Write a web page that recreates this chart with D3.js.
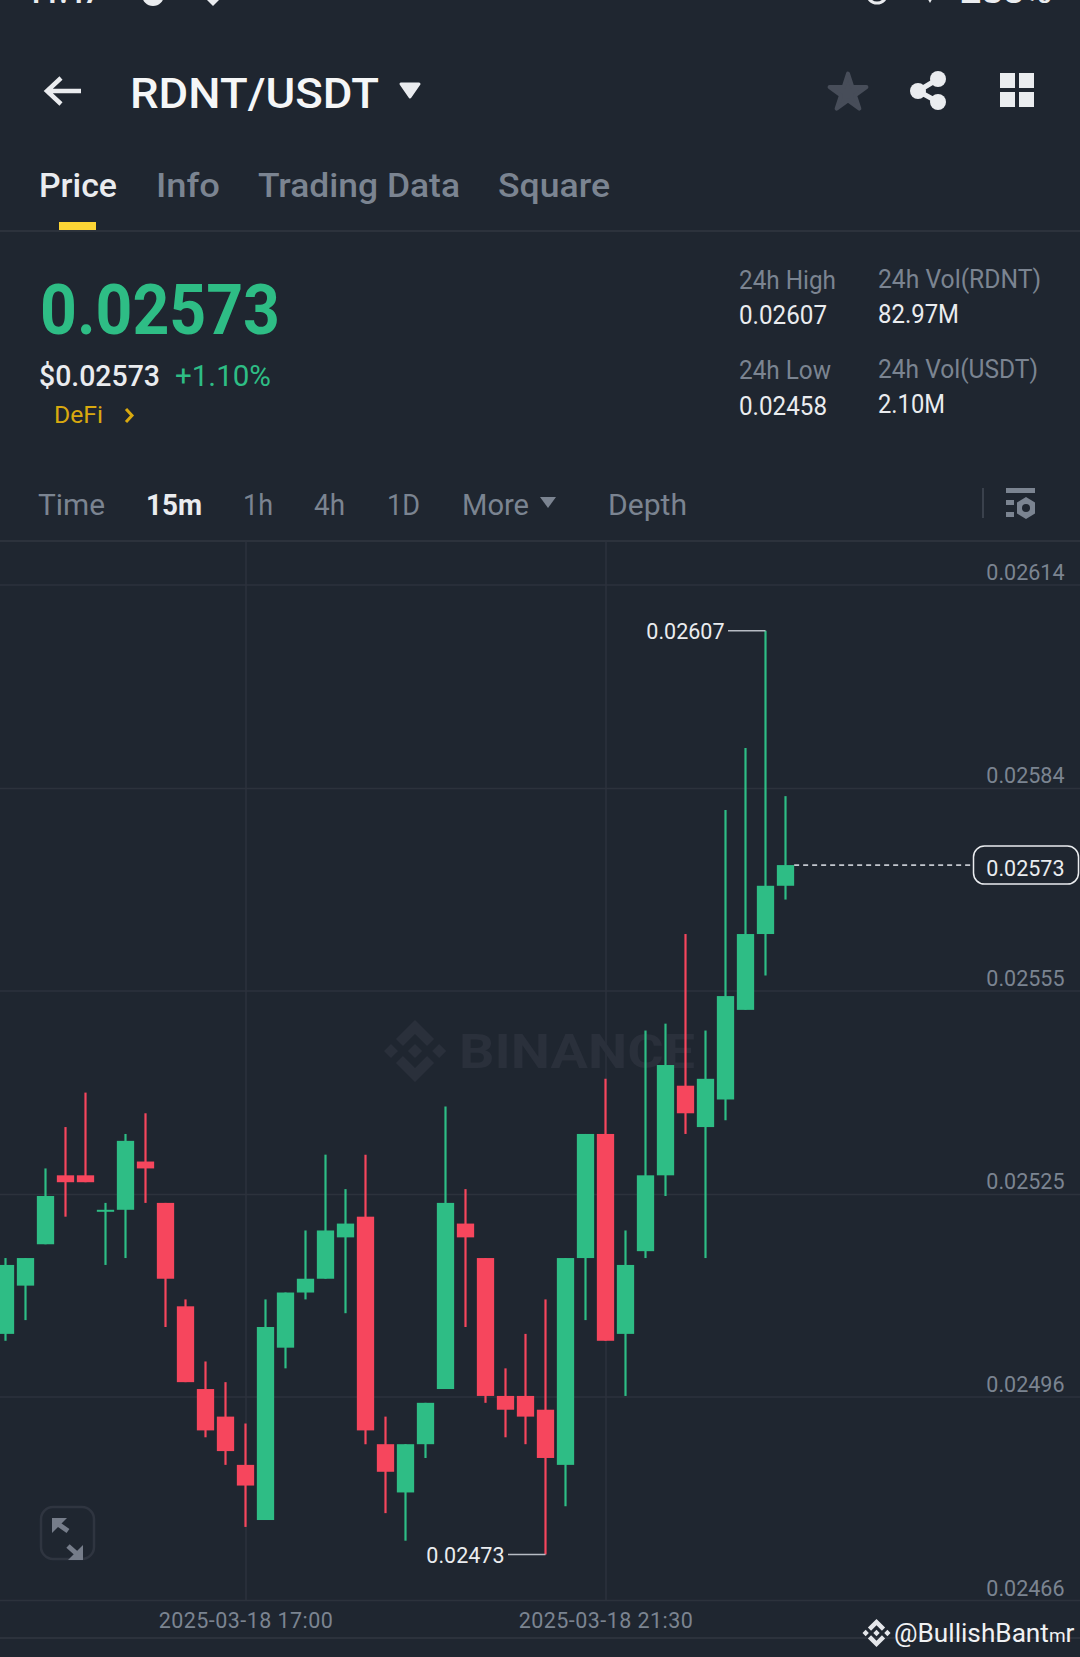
<!DOCTYPE html>
<html lang="en">

<head>
  <meta charset="UTF-8">
  <title>RDNT/USDT</title>
  <script src="https://d3js.org/d3.v7.min.js"></script>
  <style>
    html, body { margin: 0; padding: 0; background: #1f2630; }
    svg { display: block; font-family: Roboto, sans-serif; }
  </style>
</head>

<body>
  <svg id="chart" width="1080" height="1657"></svg>
  <script>
    // candle data
    var times = [
      "2025-03-18 14:00", "2025-03-18 14:15", "2025-03-18 14:30", "2025-03-18 14:45",
      "2025-03-18 15:00", "2025-03-18 15:15", "2025-03-18 15:30", "2025-03-18 15:45",
      "2025-03-18 16:00", "2025-03-18 16:15", "2025-03-18 16:30", "2025-03-18 16:45",
      "2025-03-18 17:00", "2025-03-18 17:15", "2025-03-18 17:30", "2025-03-18 17:45",
      "2025-03-18 18:00", "2025-03-18 18:15", "2025-03-18 18:30", "2025-03-18 18:45",
      "2025-03-18 19:00", "2025-03-18 19:15", "2025-03-18 19:30", "2025-03-18 19:45",
      "2025-03-18 20:00", "2025-03-18 20:15", "2025-03-18 20:30", "2025-03-18 20:45",
      "2025-03-18 21:00", "2025-03-18 21:15", "2025-03-18 21:30", "2025-03-18 21:45",
      "2025-03-18 22:00", "2025-03-18 22:15", "2025-03-18 22:30", "2025-03-18 22:45",
      "2025-03-18 23:00", "2025-03-18 23:15", "2025-03-18 23:30", "2025-03-18 23:45"
    ];
    var opens = [
      0.02505, 0.02512, 0.02518, 0.02528, 0.02528, 0.02523, 0.02523, 0.02530,
      0.02524, 0.02509, 0.02497, 0.02493, 0.02486, 0.02478, 0.02503, 0.02511,
      0.02513, 0.02519, 0.02522, 0.02489, 0.02482, 0.02489, 0.02497, 0.02521,
      0.02516, 0.02496, 0.02496, 0.02494, 0.02486, 0.02516, 0.02534, 0.02505,
      0.02517, 0.02528, 0.02541, 0.02535, 0.02539, 0.02552, 0.02563, 0.02570
    ];
    var highs = [
      0.02516, 0.02516, 0.02529, 0.02535, 0.02540, 0.02524, 0.02534, 0.02537,
      0.02524, 0.02510, 0.02501, 0.02498, 0.02492, 0.02510, 0.02511, 0.02520,
      0.02531, 0.02526, 0.02531, 0.02493, 0.02489, 0.02495, 0.02538, 0.02526,
      0.02516, 0.02500, 0.02505, 0.02510, 0.02516, 0.02534, 0.02542, 0.02520,
      0.02549, 0.02550, 0.02563, 0.02549, 0.02581, 0.02590, 0.02607, 0.02583
    ];
    var lows = [
      0.02504, 0.02507, 0.02518, 0.02522, 0.02527, 0.02515, 0.02516, 0.02524,
      0.02506, 0.02498, 0.02490, 0.02486, 0.02477, 0.02478, 0.02500, 0.02510,
      0.02513, 0.02508, 0.02489, 0.02479, 0.02475, 0.02487, 0.02497, 0.02506,
      0.02495, 0.02490, 0.02489, 0.02473, 0.02480, 0.02507, 0.02504, 0.02496,
      0.02516, 0.02525, 0.02534, 0.02516, 0.02536, 0.02552, 0.02557, 0.02568
    ];
    var closes = [
      0.02515, 0.02516, 0.02525, 0.02527, 0.02527, 0.02523, 0.02533, 0.02529,
      0.02513, 0.02498, 0.02491, 0.02488, 0.02483, 0.02506, 0.02511, 0.02513,
      0.02520, 0.02521, 0.02491, 0.02485, 0.02489, 0.02495, 0.02524, 0.02519,
      0.02496, 0.02494, 0.02493, 0.02487, 0.02516, 0.02534, 0.02504, 0.02515,
      0.02528, 0.02544, 0.02537, 0.02542, 0.02554, 0.02563, 0.02570, 0.02573
    ];
    var priceTicks = [0.026137, 0.025842, 0.025548, 0.025253, 0.024959, 0.024664];
    var timeTicks = ["2025-03-18 17:00", "2025-03-18 21:30"];
    var lastPrice = 0.02573;
    var highPrice = 0.02607;
    var lowPrice = 0.02473;
    var tabs = ["Price", "Info", "Trading Data", "Square"];
    var intervals = ["Time", "15m", "1h", "4h", "1D", "More", "Depth"];

    var WHITE = "#eaecef", GREY = "#7b8491", GRID = "#2c323c", UP = "#2ebd85", DOWN = "#f6465d";

    var svg = d3.select("#chart");
    var parseTime = d3.timeParse("%Y-%m-%d %H:%M");

    // width squeezes the text to the width it has in the screenshot font
    function label(x, y, str, size, color, weight, width) {
      var t = svg.append("text")
        .attr("x", x)
        .attr("y", y)
        .attr("font-size", size)
        .attr("font-weight", weight || 400)
        .attr("fill", color)
        .text(str);
      if (width) t.attr("textLength", width).attr("lengthAdjust", "spacingAndGlyphs");
      return t;
    }

    function binanceLogo(x, y, size, color) {
      // logo is drawn on a 126.6 unit box
      var k = size / 126.6;
      svg.append("path")
        .attr("transform", "translate(" + (x - size / 2) + "," + (y - size / 2) + ") scale(" + k + ")")
        .attr("fill", color)
        .attr("d", "M38.7 53.2L63.3 28.6l24.6 24.6 14.3-14.3L63.3 0 24.4 38.9zM0 63.3L14.3 49l14.3 14.3-14.3 14.3zM38.7 73.4L63.3 98l24.6-24.6 14.3 14.3-38.9 38.9-38.9-38.9zM98.3 63.3L112.6 49l14.3 14.3-14.3 14.3zM77.8 63.3L63.3 48.8 48.8 63.3l14.5 14.5z");
    }

    // status bar, cut off by the top of the picture
    label(27, 3, "11:47", 30, WHITE, 700, 73);
    svg.append("circle").attr("cx", 153).attr("cy", -5).attr("r", 11).attr("fill", WHITE);
    svg.append("path").attr("d", "M201 -6H225L213 6Z").attr("fill", WHITE);
    svg.append("circle").attr("cx", 877).attr("cy", -7).attr("r", 10).attr("fill", "none").attr("stroke", WHITE).attr("stroke-width", 3);
    svg.append("path").attr("d", "M925 -6H935L930 3Z").attr("fill", WHITE);
    label(960, 3, "250%", 30, WHITE, 700, 92);

    // header
    svg.append("path").attr("d", "M81 91H47M61 78L47 91L61 104").attr("fill", "none").attr("stroke", WHITE).attr("stroke-width", 4.5);
    label(130, 108, "RDNT/USDT", 43, "#f5f6f7", 500, 249);
    svg.append("path").attr("d", "M401 84H419L410 97Z").attr("fill", WHITE).attr("stroke", WHITE).attr("stroke-width", 3).attr("stroke-linejoin", "round");

    // star, share, grid icons
    var star = d3.symbol().type(d3.symbolStar).size(420);
    svg.append("path").attr("d", star()).attr("transform", "translate(848,93)")
      .attr("fill", "#474d59").attr("stroke", "#474d59").attr("stroke-width", 4).attr("stroke-linejoin", "round");
    svg.append("path").attr("d", "M938 79L918 91L938 102").attr("fill", "none").attr("stroke", WHITE).attr("stroke-width", 5);
    [[918, 91], [938, 79], [938, 102]].forEach(function (d) {
      svg.append("circle").attr("cx", d[0]).attr("cy", d[1]).attr("r", 8).attr("fill", WHITE);
    });
    [[1000, 73], [1019, 73], [1000, 92], [1019, 92]].forEach(function (d) {
      svg.append("rect").attr("x", d[0]).attr("y", d[1]).attr("width", 15).attr("height", 15).attr("fill", WHITE);
    });

    // tabs
    var tabX = [39, 156, 258, 498];
    var tabWidth = [78, 64, 202, 112];
    tabs.forEach(function (d, i) {
      label(tabX[i], 197, d, 34, i == 0 ? WHITE : GREY, 500, tabWidth[i]);
    });
    svg.append("rect").attr("x", 59).attr("y", 222).attr("width", 37).attr("height", 8).attr("fill", "#fcd535");
    svg.append("rect").attr("x", 0).attr("y", 230).attr("width", 1080).attr("height", 2).attr("fill", GRID);

    // price block
    label(40, 334, "0.02573", 70, UP, 700, 240);
    label(39, 386, "$0.02573", 29, WHITE, 500, 121);
    label(175, 386, "+1.10%", 29, UP, 400, 96);
    label(54, 423, "DeFi", 24, "#d9a90f", 400, 49);
    svg.append("path").attr("d", "M126 409L132 415.5L126 422").attr("fill", "none").attr("stroke", "#d9a90f").attr("stroke-width", 3);

    label(739, 289, "24h High", 26, GREY, 400, 97);
    label(739, 324, "0.02607", 25, WHITE, 400, 88);
    label(739, 379, "24h Low", 26, GREY, 400, 92);
    label(739, 415, "0.02458", 25, WHITE, 400, 88);
    label(878, 288, "24h Vol(RDNT)", 26, GREY, 400, 163);
    label(878, 323, "82.97M", 25, WHITE, 400, 81);
    label(878, 378, "24h Vol(USDT)", 26, GREY, 400, 160);
    label(878, 413, "2.10M", 25, WHITE, 400, 67);

    // interval toolbar
    var intervalX = [38, 146, 243, 314, 387, 462, 608];
    var intervalWidth = [67, 56, 30, 31, 33, 67, 79];
    intervals.forEach(function (d, i) {
      label(intervalX[i], 515, d, 30, i == 1 ? WHITE : GREY, i == 1 ? 700 : 400, intervalWidth[i]);
    });
    svg.append("path").attr("d", "M540 497H556L548 508Z").attr("fill", GREY);
    svg.append("rect").attr("x", 982).attr("y", 488).attr("width", 2).attr("height", 30).attr("fill", "#3a414c");
    svg.append("rect").attr("x", 1006).attr("y", 488).attr("width", 29).attr("height", 5).attr("fill", GREY);
    svg.append("rect").attr("x", 1006).attr("y", 500).attr("width", 8).attr("height", 5).attr("fill", GREY);
    svg.append("rect").attr("x", 1006).attr("y", 512).attr("width", 8).attr("height", 5).attr("fill", GREY);
    svg.append("path").attr("d", "M1026 497L1035 502.5V513.5L1026 519L1017 513.5V502.5Z").attr("fill", GREY);
    svg.append("circle").attr("cx", 1026).attr("cy", 508).attr("r", 4).attr("fill", "#1f2630");

    // scales
    var x = d3.scaleTime()
      .domain([parseTime(times[0]), parseTime(times[times.length - 1])])
      .range([5.5, 785.5]);
    var y = d3.scaleLinear()
      .domain([priceTicks[5], priceTicks[0]])
      .range([1600, 584.5]);

    // frame lines
    svg.append("rect").attr("x", 0).attr("y", 540).attr("width", 1080).attr("height", 2).attr("fill", GRID);
    svg.append("rect").attr("x", 0).attr("y", 1637).attr("width", 1080).attr("height", 2).attr("fill", GRID);

    // axes
    var gy = svg.append("g")
      .attr("transform", "translate(1080,0)")
      .call(d3.axisLeft(y).tickValues(priceTicks).tickSize(1080).tickFormat(d3.format(".5f")));
    var gx = svg.append("g")
      .attr("transform", "translate(0,1600)")
      .call(d3.axisBottom(x).tickValues(timeTicks.map(parseTime)).tickSize(-1059).tickFormat(d3.timeFormat("%Y-%m-%d %H:%M")));
    [gy, gx].forEach(function (g) {
      g.select(".domain").remove();
      g.selectAll(".tick line").attr("stroke", GRID).attr("stroke-width", 1.5);
      g.selectAll(".tick text").attr("fill", GREY).attr("font-family", "Roboto, sans-serif");
    });
    gy.selectAll(".tick text")
      .attr("x", -15.5)
      .attr("dy", "-5px")
      .attr("font-size", 21.5);
    gx.selectAll(".tick text")
      .attr("y", 28)
      .attr("dy", 0)
      .attr("font-size", 21.5)
      .attr("letter-spacing", 0.45);

    // watermark
    binanceLogo(415, 1051, 62, "#2a303b");
    label(459, 1068, "BINANCE", 49, "#2a303b", 700, 236);

    // candles
    var candles = times.map(function (d, i) {
      return { time: parseTime(d), open: opens[i], high: highs[i], low: lows[i], close: closes[i] };
    });
    var bodyWidth = 17.3;
    var candleColor = function (d) { return d.close >= d.open ? UP : DOWN; };

    svg.append("g").selectAll("line")
      .data(candles)
      .enter()
      .append("line")
      .attr("x1", function (d) { return x(d.time); })
      .attr("x2", function (d) { return x(d.time); })
      .attr("y1", function (d) { return y(d.high); })
      .attr("y2", function (d) { return y(d.low); })
      .attr("stroke", candleColor)
      .attr("stroke-width", 2.2);

    svg.append("g").selectAll("rect")
      .data(candles)
      .enter()
      .append("rect")
      .attr("x", function (d) { return x(d.time) - bodyWidth / 2; })
      .attr("width", bodyWidth)
      .attr("y", function (d) { return y(Math.max(d.open, d.close)); })
      .attr("height", function (d) { return Math.max(2, Math.abs(y(d.open) - y(d.close))); })
      .attr("fill", candleColor);

    // high and low markers
    function extremeMarker(price) {
      var c = candles.find(function (d) { return d.high == price || d.low == price; });
      svg.append("line")
        .attr("x1", x(c.time) - 37.5)
        .attr("x2", x(c.time))
        .attr("y1", y(price))
        .attr("y2", y(price))
        .attr("stroke", "#b7bcc4")
        .attr("stroke-width", 1.5);
      label(x(c.time) - 41, y(price) + 8.5, price.toFixed(5), 21.5, WHITE).attr("text-anchor", "end");
    }
    extremeMarker(highPrice);
    extremeMarker(lowPrice);

    // last price line and tag
    var lastCandle = candles[candles.length - 1];
    svg.append("line")
      .attr("x1", x(lastCandle.time) + bodyWidth / 2)
      .attr("x2", 973)
      .attr("y1", y(lastPrice))
      .attr("y2", y(lastPrice))
      .attr("stroke", "#c3c7ce")
      .attr("stroke-width", 1.8)
      .attr("stroke-dasharray", "5 4");
    svg.append("rect")
      .attr("x", 973.5)
      .attr("y", y(lastPrice) - 19)
      .attr("width", 105)
      .attr("height", 38)
      .attr("rx", 11)
      .attr("fill", "#1f2630")
      .attr("stroke", WHITE)
      .attr("stroke-width", 1.5);
    label(1064.5, y(lastPrice) + 11, lastPrice.toFixed(5), 21.5, WHITE).attr("text-anchor", "end");

    // expand button
    svg.append("rect").attr("x", 41).attr("y", 1507).attr("width", 53).attr("height", 52).attr("rx", 12)
      .attr("fill", "none").attr("stroke", "#2f3540").attr("stroke-width", 2.5);
    svg.append("path").attr("d", "M52 1518H67L52 1533Z").attr("fill", "#767d8a");
    svg.append("path").attr("d", "M83 1560H68L83 1545Z").attr("fill", "#767d8a");
    svg.append("path").attr("d", "M58 1524L68 1531M77 1554L68 1546").attr("stroke", "#767d8a").attr("stroke-width", 5);

    // user watermark
    binanceLogo(876.5, 1633, 28, "#e4e6ea");
    var tag = label(894, 1642, "@BullishBant", 26.2, "#f0f1f3");
    tag.append("tspan").attr("font-size", 19).text("m");
    tag.append("tspan").text("r");
  </script>
</body>

</html>
